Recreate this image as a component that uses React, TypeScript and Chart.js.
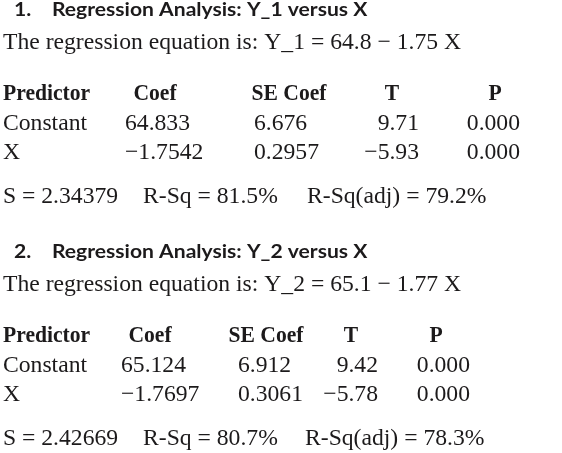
import { useEffect, useRef } from "react";
import { Chart, registerables } from "chart.js";

Chart.register(...registerables);

// regression output, one entry per model
const models = ["Y_1", "Y_2"];
const intercepts = ["64.8", "65.1"];
const slopes = ["1.75", "1.77"];
const columns = ["Predictor", "Coef", "SE Coef", "T", "P"];
const predictors = ["Constant", "X"];
const coef1 = ["64.833", "−1.7542"];
const seCoef1 = ["6.676", "0.2957"];
const tVal1 = ["9.71", "−5.93"];
const pVal1 = ["0.000", "0.000"];
const coef2 = ["65.124", "−1.7697"];
const seCoef2 = ["6.912", "0.3061"];
const tVal2 = ["9.42", "−5.78"];
const pVal2 = ["0.000", "0.000"];
const sValues = ["2.34379", "2.42669"];
const rSq = ["81.5", "80.7"];
const rSqAdj = ["79.2", "78.3"];

const coefs = [coef1, coef2];
const seCoefs = [seCoef1, seCoef2];
const tVals = [tVal1, tVal2];
const pVals = [pVal1, pVal2];

// layout, in page pixels
const W = 562;
const H = 453;
const sectionTop = [0, 242];
const rowY = { heading: 16, equation: 49, header: 100, row: [130, 159], stats: 203 };
// per section: [coef header centre, coef left, se header centre, se left, t header centre, t right, p header centre, p right]
const colX = [
  [155, 125, 289, 254, 392, 419, 495, 520],
  [150, 121, 266, 238, 351, 378, 436, 470],
];
const statsX = [
  [3, 143, 307],
  [3, 143, 305],
];

const serif = '"Liberation Serif", "Times New Roman", serif';
const sans = 'Lato, "Open Sans", sans-serif';
const ink = "#1c1a1b";

const textPlugin = {
  id: "regressionText",
  afterDraw(chart: Chart) {
    const { ctx } = chart;
    const sx = chart.scales.x;
    const sy = chart.scales.y;
    const put = (s: string, xv: number, yv: number, font: string, align: CanvasTextAlign, k: number) => {
      ctx.save();
      ctx.font = font;
      ctx.fillStyle = ink;
      ctx.textAlign = align;
      ctx.textBaseline = "alphabetic";
      ctx.translate(sx.getPixelForValue(xv), sy.getPixelForValue(yv));
      ctx.scale(k, 1);
      ctx.fillText(s, 0, 0);
      ctx.restore();
    };
    const body = (s: string, xv: number, yv: number, align: CanvasTextAlign = "left") =>
      put(s, xv, yv, `24px ${serif}`, align, 0.985);
    const bold = (s: string, xv: number, yv: number, align: CanvasTextAlign = "left") =>
      put(s, xv, yv, `bold 24px ${serif}`, align, 0.9);
    const head = (s: string, xv: number, yv: number) => put(s, xv, yv, `bold 19px ${sans}`, "left", 1.11);

    models.forEach((m, i) => {
      const top = sectionTop[i];
      const c = colX[i];
      head(`${i + 1}.`, 14, top + rowY.heading);
      head(`Regression Analysis: ${m} versus X`, 52, top + rowY.heading);
      body(`The regression equation is: ${m} = ${intercepts[i]} − ${slopes[i]} X`, 3, top + rowY.equation);

      bold(columns[0], 3, top + rowY.header);
      bold(columns[1], c[0], top + rowY.header, "center");
      bold(columns[2], c[2], top + rowY.header, "center");
      bold(columns[3], c[4], top + rowY.header, "center");
      bold(columns[4], c[6], top + rowY.header, "center");

      predictors.forEach((p, r) => {
        const y = top + rowY.row[r];
        body(p, 3, y);
        body(coefs[i][r], c[1], y);
        body(seCoefs[i][r], c[3], y);
        body(tVals[i][r], c[5], y, "right");
        body(pVals[i][r], c[7], y, "right");
      });

      const y = top + rowY.stats;
      body(`S = ${sValues[i]}`, statsX[i][0], y);
      body(`R-Sq = ${rSq[i]}%`, statsX[i][1], y);
      body(`R-Sq(adj) = ${rSqAdj[i]}%`, statsX[i][2], y);
    });
  },
};

export default function App() {
  const canvasRef = useRef<HTMLCanvasElement | null>(null);

  useEffect(() => {
    if (!canvasRef.current) return;
    const chart = new Chart(canvasRef.current, {
      type: "scatter",
      data: { datasets: [] },
      options: {
        animation: false,
        responsive: true,
        maintainAspectRatio: false,
        layout: { padding: 0 },
        plugins: { legend: { display: false }, tooltip: { enabled: false } },
        scales: {
          x: { type: "linear", min: 0, max: W, display: false },
          y: { type: "linear", min: 0, max: H, reverse: true, display: false },
        },
      },
      plugins: [textPlugin],
    });
    return () => chart.destroy();
  }, []);

  return (
    <div style={{ position: "fixed", left: 0, top: 0, width: W, height: H, background: "#fff" }}>
      <canvas ref={canvasRef} />
    </div>
  );
}
